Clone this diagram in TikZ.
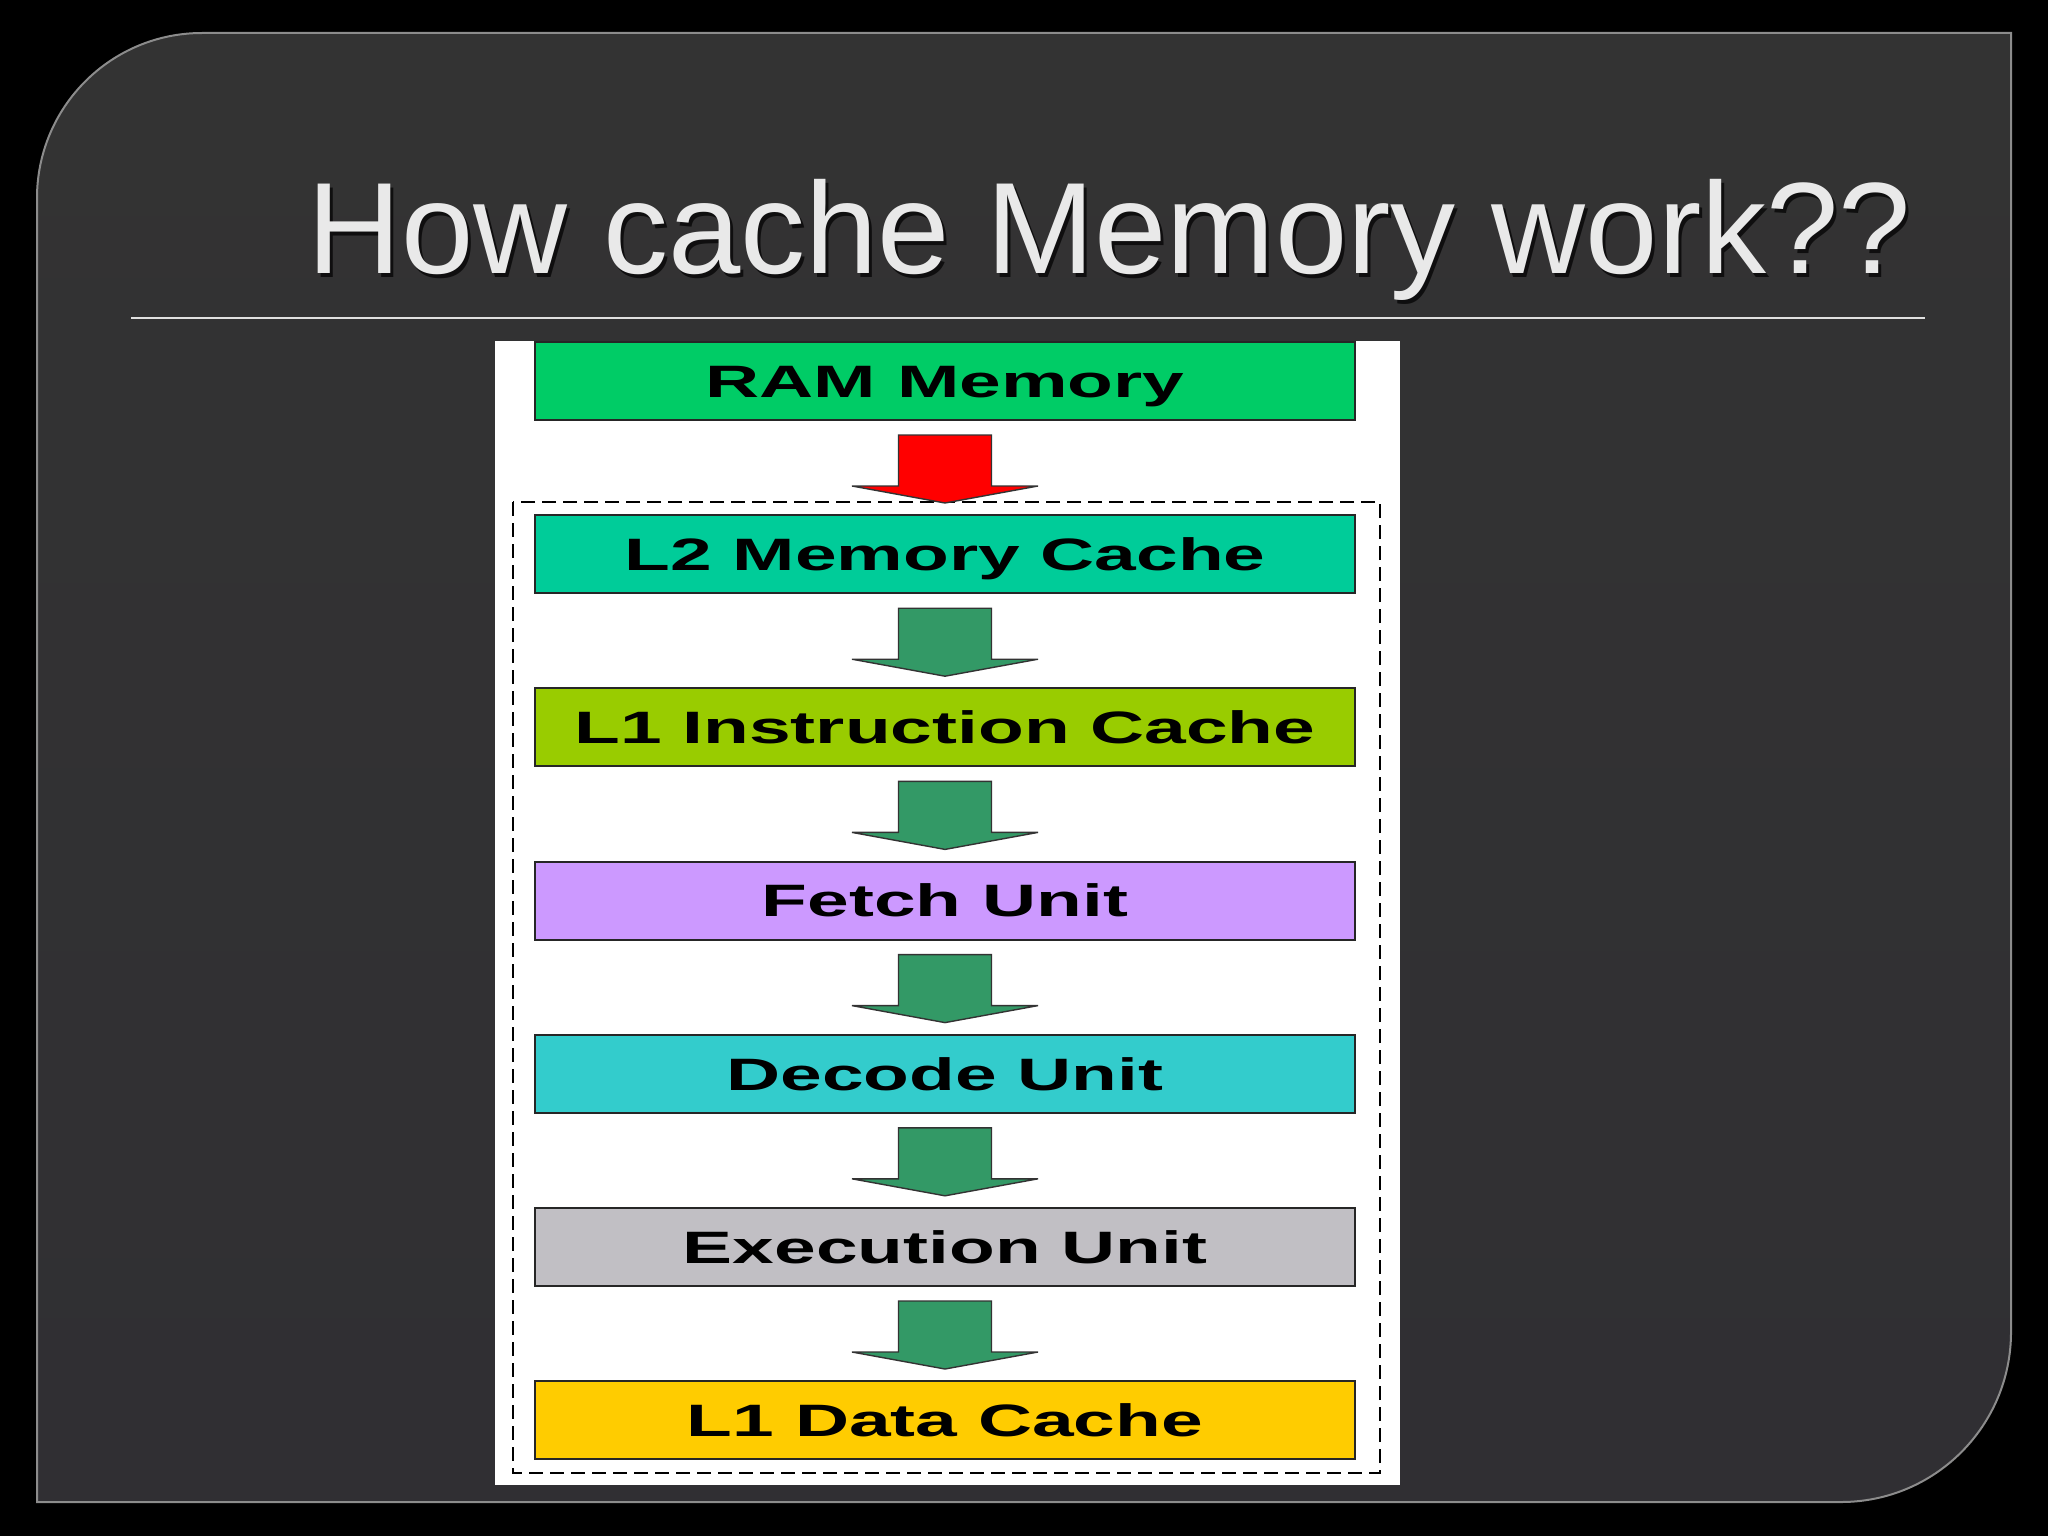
\documentclass[tikz,border=0pt]{standalone}
\usepackage{fontspec}
\setmainfont{Liberation Sans}
\usetikzlibrary{calc}
\definecolor{panelc}{HTML}{333333}
\definecolor{panelb}{HTML}{302F33}
\definecolor{ramc}{HTML}{00CC66}
\definecolor{ltwoc}{HTML}{00CC99}
\definecolor{lonec}{HTML}{99CC00}
\definecolor{fetchc}{HTML}{CC99FF}
\definecolor{decc}{HTML}{33CCCC}
\definecolor{execc}{HTML}{C1BFC4}
\definecolor{ldatac}{HTML}{FFCC00}
\definecolor{arrg}{HTML}{339966}
\definecolor{titlec}{HTML}{E9E9E9}
\tikzset{
  unitbox/.style={draw=black!85, line width=1pt, minimum width=410pt, minimum height=39pt,
    inner sep=0pt, text height=16.2pt, text depth=0pt, font=\fontsize{22.7}{24}\selectfont\bfseries},
  fatarrowstyle/.style={draw=black!80, line width=0.7pt, line join=miter}
}
\newcommand\wide[1]{\scalebox{1.65}[1]{#1}}
\newcommand\fatarrow[2]{%
  \draw[fatarrowstyle, fill=#2, shift={(#1.south)}]
    (-46.5,14) -- (46.5,14) -- (46.5,65) -- (93,65) -- (0,82) -- (-93,65) -- (-46.5,65) -- cycle;}
\begin{document}
\begin{tikzpicture}[x=0.5pt,y=-0.5pt]
  % page
  \fill[black] (0,0) rectangle (2048,1536);
  \useasboundingbox (0,0) rectangle (2048,1536);
  % slide panel
  \shade[top color=panelc, bottom color=panelb, draw=black!45, line width=1pt]
    (37,1502) -- (37,198) .. controls (37,106.9) and (110.9,33) .. (202,33)
    -- (2011,33) -- (2011,1332) .. controls (2011,1425.9) and (1934.9,1502) .. (1841,1502) -- cycle;
  % title
  \node[anchor=base west, inner sep=0pt, text=black, opacity=0.7, font=\fontsize{65}{70}\selectfont]
    at (310,277) {How cache Memory work??};
  \node[anchor=base west, inner sep=0pt, text=titlec, font=\fontsize{65}{70}\selectfont]
    (title) at (307,273) {How cache Memory work??};
  \draw[white!88!black, line width=1pt] (131,318) -- (1925,318);
  % white picture area
  \fill[white] (495,341) rectangle (1400,1485);
  \draw[black, line width=1pt, dash pattern=on 7pt off 3.5pt] (513,502) rectangle (1380,1473);
  % boxes
  \node[unitbox, fill=ramc]   (ram)   at (945,381)    {\wide{RAM Memory}};
  \node[unitbox, fill=ltwoc]  (ltwo)  at (945,554.2)  {\wide{L2 Memory Cache}};
  \node[unitbox, fill=lonec]  (lone)  at (945,727.4)  {\wide{L1 Instruction Cache}};
  \node[unitbox, fill=fetchc] (fetch) at (945,900.6)  {\wide{Fetch Unit}};
  \node[unitbox, fill=decc]   (dec)   at (945,1073.8) {\wide{Decode Unit}};
  \node[unitbox, fill=execc]  (exec)  at (945,1247)   {\wide{Execution Unit}};
  \node[unitbox, fill=ldatac] (ldata) at (945,1420)   {\wide{L1 Data Cache}};
  % arrows
  \fatarrow{ram}{red}
  \fatarrow{ltwo}{arrg}
  \fatarrow{lone}{arrg}
  \fatarrow{fetch}{arrg}
  \fatarrow{dec}{arrg}
  \fatarrow{exec}{arrg}
\end{tikzpicture}
\end{document}
